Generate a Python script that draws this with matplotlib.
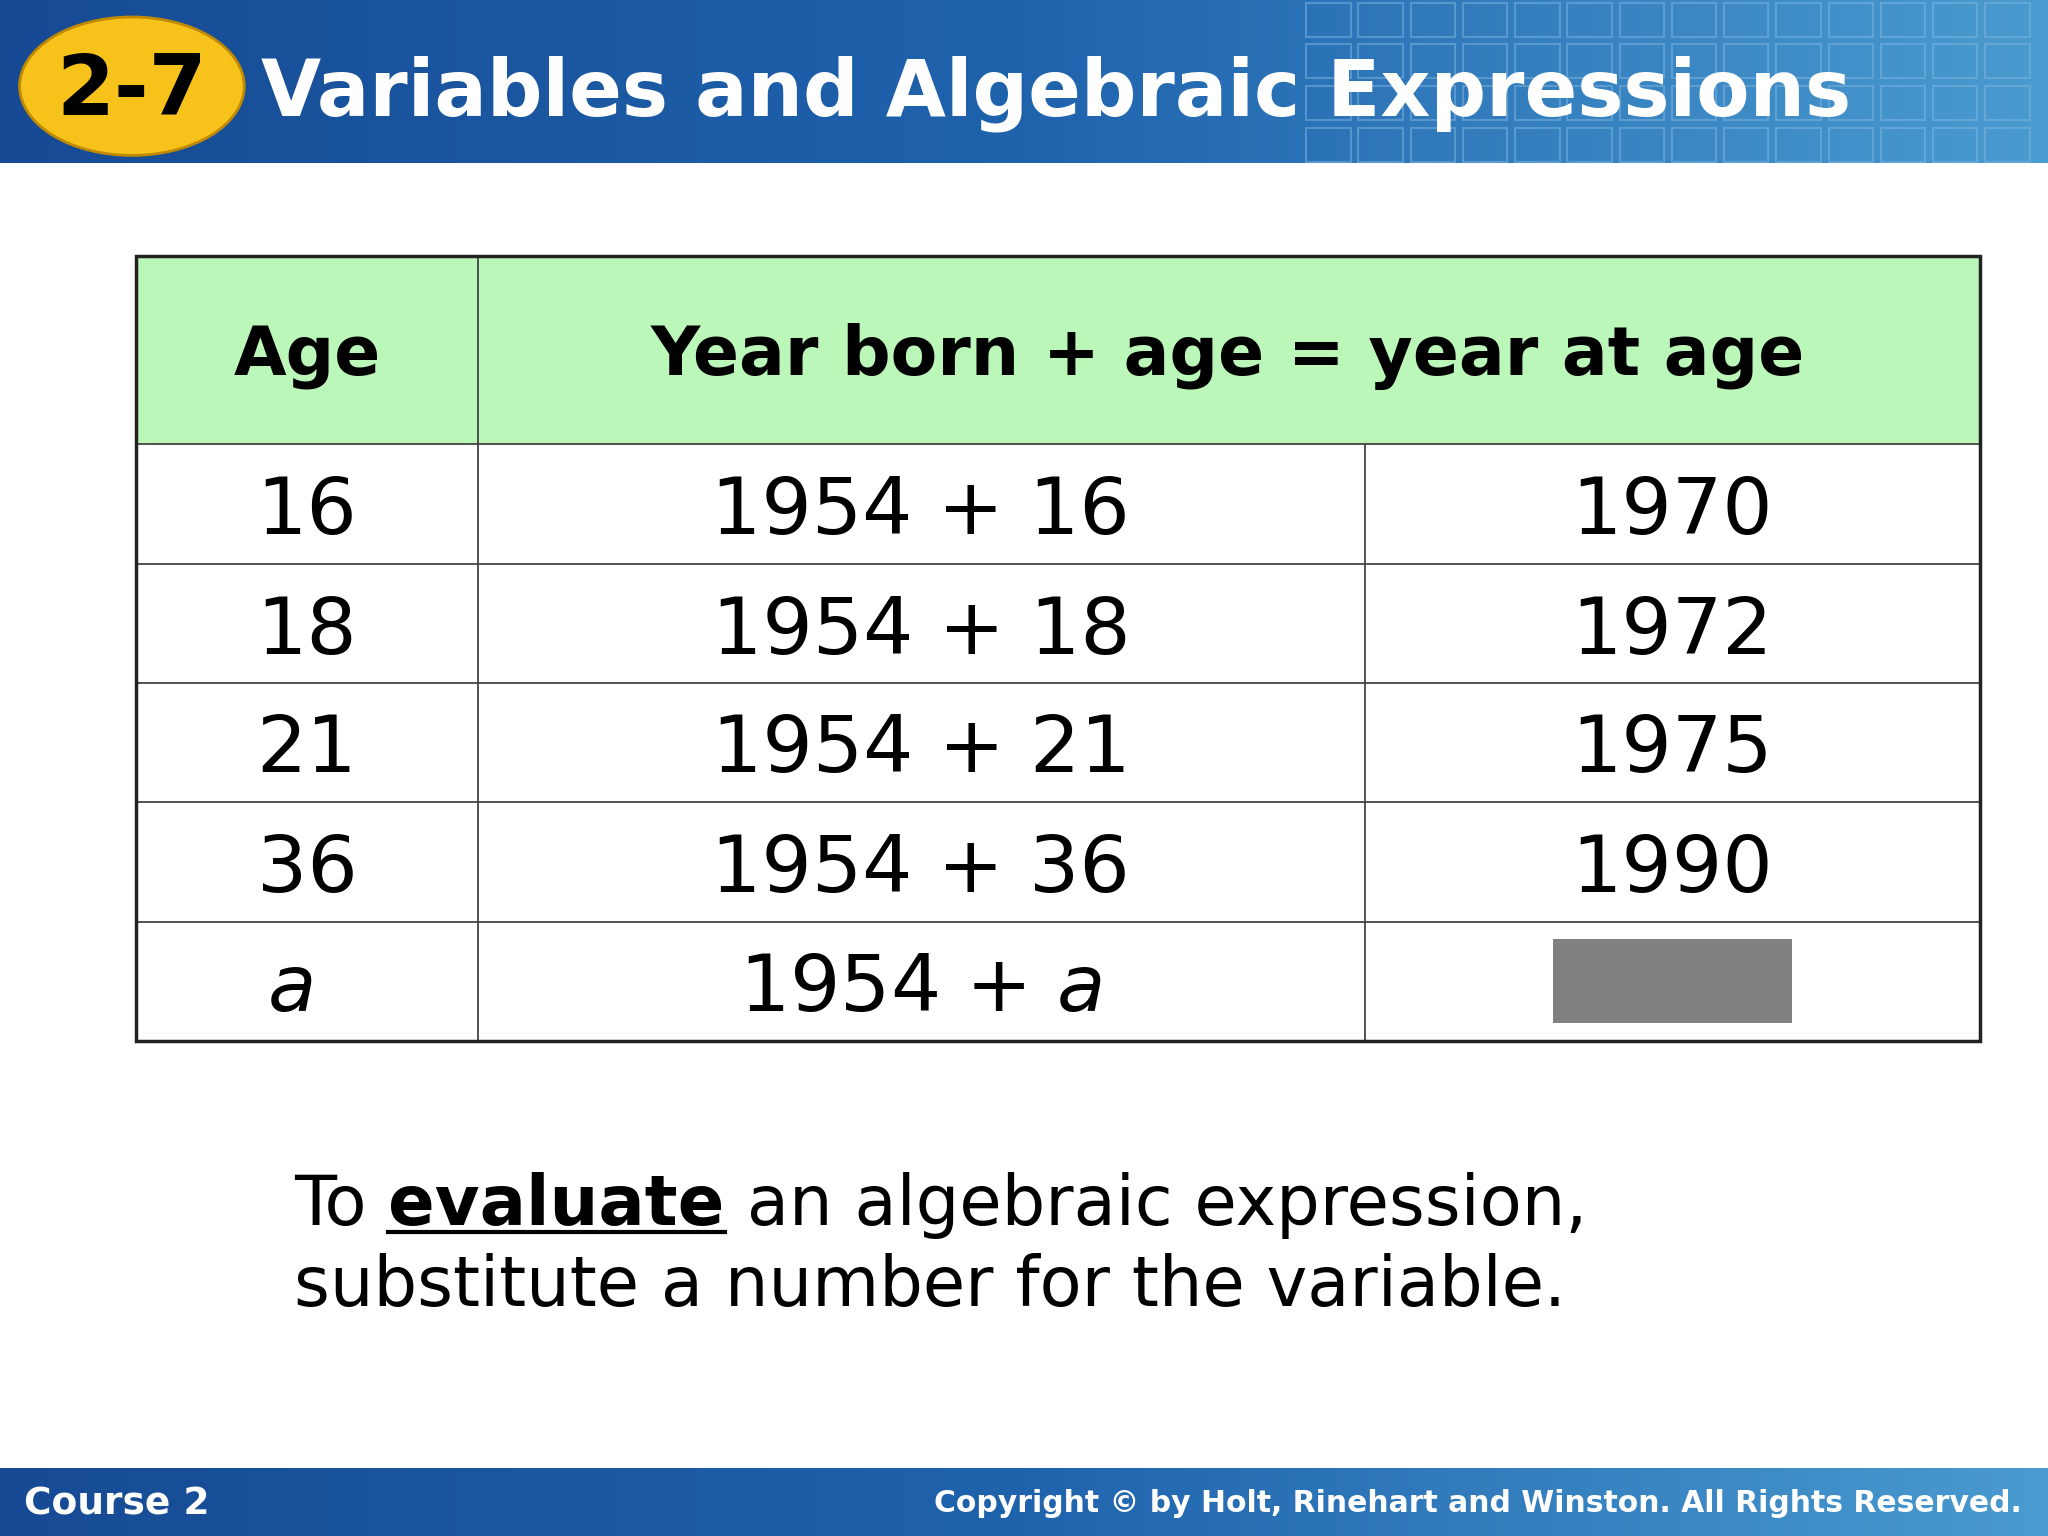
import matplotlib
matplotlib.use("Agg")
import matplotlib.pyplot as plt
import numpy as np
from matplotlib.patches import Rectangle, Ellipse
from matplotlib.colors import LinearSegmentedColormap

lesson = "2-7"
title = "Variables and Algebraic Expressions"
header_cols = ["Age", "Year born + age = year at age"]
ages = ["16", "18", "21", "36", "$\\mathit{a}$"]
exprs = ["1954 + 16", "1954 + 18", "1954 + 21", "1954 + 36", "1954 + $\\mathit{a}$"]
results = ["1970", "1972", "1975", "1990", None]
footer_left = "Course 2"
footer_right = "Copyright © by Holt, Rinehart and Winston. All Rights Reserved."

W, H = 1568, 1176
fig = plt.figure(figsize=(20.48, 15.36), dpi=100)
ax = fig.add_axes([0, 0, 1, 1])
ax.set_xlim(0, W); ax.set_ylim(H, 0); ax.axis("off")
plt.rcParams['font.family'] = ['DejaVu Sans']

cmap = LinearSegmentedColormap.from_list("b", ["#174a94", "#1f63ad", "#4a9bd0"])
grad = np.linspace(0, 1, 256)[None, :]
ax.imshow(grad, extent=(0, W, 125, 0), cmap=cmap, aspect="auto", zorder=0)
ax.imshow(grad, extent=(0, W, H, 1124), cmap=cmap, aspect="auto", zorder=0)
for i in range(14):
    for j in range(4):
        x = 1000 + i * 40; y = 2 + j * 32
        ax.add_patch(Rectangle((x, y), 34, 26, fill=False, ec="#7fb6e0", lw=1.5, alpha=0.5, zorder=1))
ax.add_patch(Ellipse((101, 66), 172, 106, fc="#f7c21a", ec="#c08a00", lw=2, zorder=2))
ax.text(101, 70, lesson, ha="center", va="center", fontsize=60, fontweight="bold", color="black", zorder=3)
ax.text(200, 72, title, ha="left", va="center", fontsize=56, fontweight="bold", color="white", zorder=3)

cols = [104, 366, 1045, 1516]
rows = [196, 340, 432, 523, 614, 706, 797]
ax.add_patch(Rectangle((104, 196), 1412, 144, fc="#bbf7b8", ec="none", zorder=1))
for y in rows[1:-1]:
    ax.plot([104, 1516], [y, y], color="#444444", lw=1.3, zorder=2)
ax.plot([366, 366], [196, 797], color="#444444", lw=1.3, zorder=2)
ax.plot([1045, 1045], [340, 797], color="#444444", lw=1.3, zorder=2)
ax.add_patch(Rectangle((104, 196), 1412, 601, fill=False, ec="#222222", lw=2.5, zorder=3))
ax.text(235, 273, header_cols[0], ha="center", va="center", fontsize=49, fontweight="bold")
ax.text(940, 273, header_cols[1], ha="center", va="center", fontsize=49, fontweight="bold")
for k in range(5):
    yc = (rows[k + 1] + rows[k + 2]) / 2 + 6
    ax.text(235 if k < 4 else 222, yc, ages[k], ha="center", va="center", fontsize=57)
    ax.text(705, yc, exprs[k], ha="center", va="center", fontsize=57)
    if results[k] is not None:
        ax.text(1280, yc, results[k], ha="center", va="center", fontsize=57)
    else:
        ax.add_patch(Rectangle((1189, 719), 183, 64, fc="#808080", ec="none", zorder=2))

fig.canvas.draw()
r = fig.canvas.get_renderer()
inv = ax.transData.inverted()
t1 = ax.text(225, 938, "To ", fontsize=49.5, va="baseline")
bb = t1.get_window_extent(r); x1 = inv.transform((bb.x1, 0))[0]
t2 = ax.text(x1, 938, "evaluate", fontsize=49.5, fontweight="bold", va="baseline")
bb = t2.get_window_extent(r); x2 = inv.transform((bb.x1, 0))[0]
ax.plot([x1, x2], [943, 943], color="black", lw=3)
ax.text(x2, 938, " an algebraic expression,", fontsize=49.5, va="baseline")
ax.text(225, 1000, "substitute a number for the variable.", fontsize=49.5, va="baseline")

ax.text(18, 1152, footer_left, fontsize=27, fontweight="bold", color="white", va="center")
ax.text(1548, 1151, footer_right, fontsize=21.5, fontweight="bold", color="white", va="center", ha="right")

fig.savefig("out.png", dpi=100)
